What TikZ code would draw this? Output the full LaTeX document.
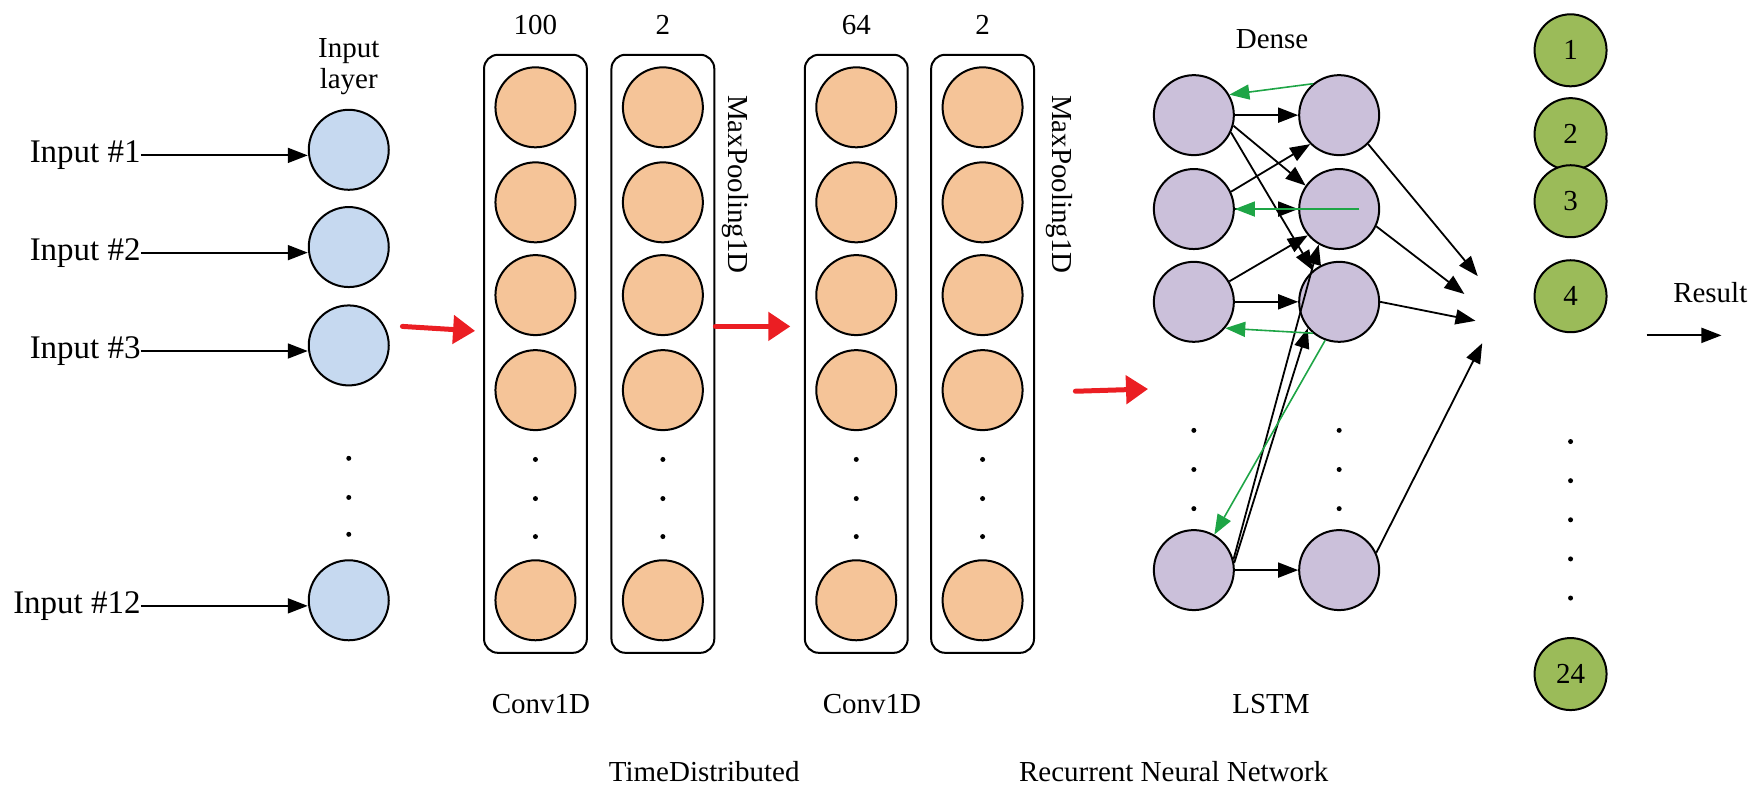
\documentclass[tikz,border=0pt]{standalone}
\usepackage{fontspec}
\setmainfont{Liberation Serif}
\usetikzlibrary{arrows.meta}
\definecolor{inblue}{RGB}{198,217,240}
\definecolor{corange}{RGB}{245,196,152}
\definecolor{lpurple}{RGB}{203,192,218}
\definecolor{ogreen}{RGB}{155,187,89}
\definecolor{agreen}{RGB}{30,165,70}
\definecolor{ared}{RGB}{235,30,35}
\begin{document}
\begin{tikzpicture}[x=1.118pt,y=-1.118pt,
  every node/.style={font=\fontsize{29}{33}\selectfont},
  neu/.style={circle,draw,line width=2pt,minimum size=80pt,inner sep=0pt},
  inn/.style={neu,fill=inblue},
  cnn/.style={neu,fill=corange},
  lst/.style={neu,fill=lpurple},
  outn/.style={neu,fill=ogreen,minimum size=72pt},
  box/.style={draw,line width=2pt,rounded corners=14pt},
  arr/.style={line width=1.8pt,-{Triangle[length=20pt,width=15pt]}},
  garr/.style={line width=1.6pt,agreen,-{Triangle[length=20pt,width=15pt]}},
  rarr/.style={line width=5pt,ared,-{Triangle[length=22pt,width=28pt]}},
  dot/.style={circle,fill,inner sep=0pt,minimum size=5pt}]
\useasboundingbox (0,0) rectangle (1570,703);
% input layer
\node at (312,60) [align=center,font=\fontsize{29}{31}\selectfont] {Input\\layer};
\foreach \n/\y/\t in {1/134/Input \#1,2/221/Input \#2,3/309/Input \#3,12/537/Input \#12}{
  \node[inn] (i\n) at (312,\y) {};
  \node[anchor=east,inner sep=0pt,font=\fontsize{33}{36}\selectfont] (t\n) at (126,\y+5) {\t};
  \draw[arr] (t\n.east) -- (t\n.east -| i\n.west);
}
\foreach \y [count=\k] in {410,445,478}{\node[dot] (id\k) at (312,\y) {};}
% conv boxes
\foreach \b/\x/\lab in {a/479/100,b/593/2,c/766/64,d/879/2}{
  \draw[box] (\x-46,49) rectangle (\x+46,584);
  \node (h\b) at (\x,22) {\lab};
  \foreach \y [count=\k] in {96,181,264,349,537}{\node[cnn] (\b\k) at (\x,\y) {};}
  \foreach \y [count=\k] in {411,446,480}{\node[dot] (\b d\k) at (\x,\y) {};}
}
\node[rotate=-90] (mp1) at (658,165) {MaxPooling1D};
\node[rotate=-90] (mp2) at (948,165) {MaxPooling1D};
\node (cv1) at (484,630) {Conv1D};
\node (cv2) at (780,630) {Conv1D};
\node (td) at (630,690) {TimeDistributed};
\node (rnn) at (1050,690) {Recurrent Neural Network};
% red arrows
\coordinate (r1s) at (360,292); \coordinate (r1e) at (425,296);
\coordinate (r2s) at (640,292); \coordinate (r2e) at (707,292);
\coordinate (r3s) at (962,350); \coordinate (r3e) at (1027,348);
\draw[rarr,line cap=round] (r1s) -- (r1e);
\draw[rarr,line cap=round] (r2s) -- (r2e);
\draw[rarr,line cap=round] (r3s) -- (r3e);
% LSTM
\node (dense) at (1138,35) {Dense};
\node (lstm) at (1137,630) {LSTM};
\foreach \y [count=\k] in {103,187,270,510}{
  \node[lst] (L\k) at (1068,\y) {};
  \node[lst] (R\k) at (1198,\y) {};
}
\foreach \y [count=\k] in {385,420,455}{
  \node[dot] (ld\k) at (1068,\y) {};
  \node[dot] (rd\k) at (1198,\y) {};
}
\draw[arr] (L1.east) -- (R1.west);
\draw[arr] (L1.-15) -- (R2.145);
\draw[arr] (L1.-25) -- (R3.130);
\draw[arr] (L2.25) -- (R1.-135);
\draw[arr] (L2.east) -- (R2.west);
\draw[arr] (L3.30) -- (R2.-140);
\draw[arr] (L3.east) -- (R3.west);
\draw[arr] (L4.15) -- (R2.-120);
\draw[arr] (L4.10) -- (R3.-140);
\draw[arr] (L4.east) -- (R4.west);
\draw[garr] (R1.130) -- (L1.30);
\draw[garr] ([xshift=20pt]R2.center) -- (L2.east);
\draw[garr] (R3.-130) -- (L3.-40);
\draw[garr] (R3.-110) -- (L4.60);
% outputs
\foreach \y/\t in {45/1,120/2,180/3,265/4,603/24}{\node[outn] (o\t) at (1405,\y) {\t};}
\foreach \y [count=\k] in {395,430,465,500,535}{\node[dot] (od\k) at (1405,\y) {};}
\coordinate (c1) at (1322,247);
\coordinate (c2) at (1310,263);
\coordinate (c3) at (1320,287);
\coordinate (c4) at (1326,307);
\draw[arr] (R1.-45) -- (c1);
\draw[arr] (R2.-25) -- (c2);
\draw[arr] (R3.east) -- (c3);
\draw[arr] (R4.25) -- (c4);
\node (res) at (1530,262) {Result};
\coordinate (rs) at (1473,300); \coordinate (re) at (1540,300);
\draw[arr] (rs) -- (re);
\end{tikzpicture}
\end{document}
